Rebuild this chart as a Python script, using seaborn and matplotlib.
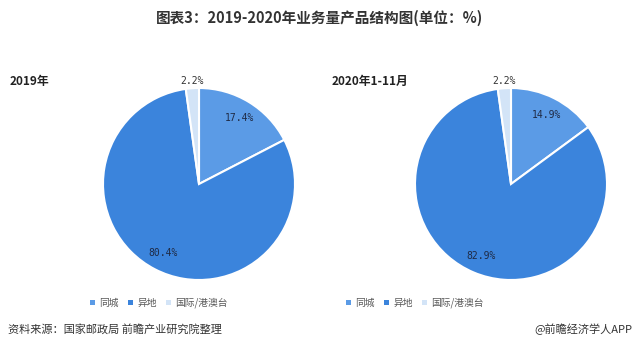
import numpy as np
import seaborn as sns
import matplotlib.pyplot as plt
from matplotlib.patches import Patch

sns.set_theme(style="white")
plt.rcParams['font.family'] = ['Noto Sans CJK SC', 'DejaVu Sans']

# data
categories = ["同城", "异地", "国际/港澳台"]
share_2019 = [17.4, 80.4, 2.2]
share_2020 = [14.9, 82.9, 2.2]
panel_titles = ["2019年", "2020年1-11月"]
colors = ["#5b9be6", "#3b84dc", "#d3e4f7"]

fig = plt.figure(figsize=(6.4, 3.6), dpi=100)

fig.text(0.5, 0.95, "图表3：2019-2020年业务量产品结构图(单位：%)",
         ha="center", va="center", fontsize=10.5, fontweight="bold", color="#333333")


def draw_pie(cx, values, title, tx, legend_x):
    # pie box in pixels: radius 96, bottom at y=80
    ax = fig.add_axes([(cx - 96) / 640, 80 / 360, 192 / 640, 192 / 360])
    wedges, texts, autotexts = ax.pie(
        values, colors=colors, startangle=90, counterclock=False,
        autopct="%.1f%%", pctdistance=0.81,
        wedgeprops=dict(edgecolor="white", linewidth=1.5),
        textprops=dict(fontsize=7, color="#1f2a44", family=["DejaVu Sans Mono"]))
    ax.set_xlim(-1, 1)
    ax.set_ylim(-1, 1)
    # small slice label sits just outside the pie
    w = wedges[-1]
    ang = np.deg2rad((w.theta1 + w.theta2) / 2)
    autotexts[-1].set_position((1.08 * np.cos(ang), 1.08 * np.sin(ang)))
    autotexts[-1].set_color("#333333")
    fig.text(tx, 1 - 81 / 360, title, ha="left", va="center",
             fontsize=8.5, fontweight="bold", color="#222222")
    handles = [Patch(facecolor=c, edgecolor="none") for c in colors]
    fig.legend(handles, categories, loc="center", bbox_to_anchor=(legend_x / 640, 1 - 303 / 360),
               ncol=3, frameon=False, fontsize=7, handlelength=0.5, handleheight=0.5,
               handletextpad=0.4, columnspacing=1.0, labelcolor="#595959")
    return ax


draw_pie(199, share_2019, panel_titles[0], 10 / 640, 159)
draw_pie(511, share_2020, panel_titles[1], 332 / 640, 415)

fig.text(8 / 640, 1 - 329 / 360, "资料来源：国家邮政局 前瞻产业研究院整理",
         ha="left", va="center", fontsize=8, color="#333333")
fig.text(632 / 640, 1 - 329 / 360, "@前瞻经济学人APP",
         ha="right", va="center", fontsize=8, color="#333333")

fig.savefig("out.png", dpi=100)
